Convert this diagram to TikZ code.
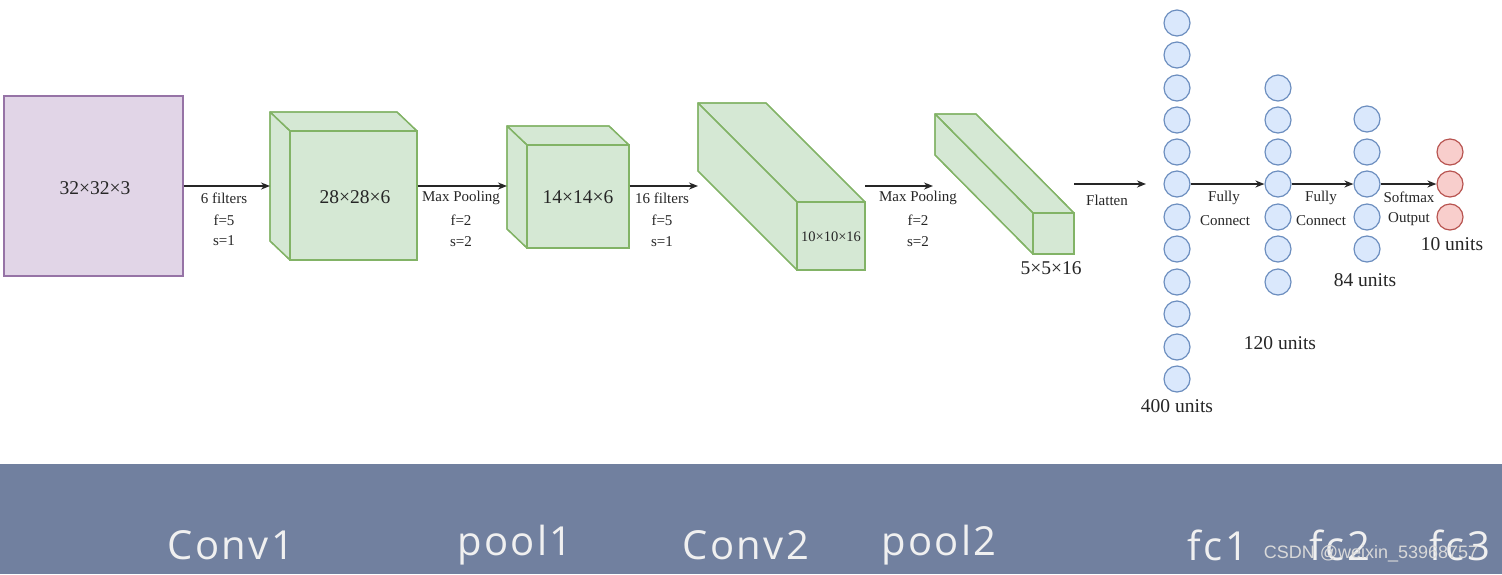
\documentclass[tikz,border=0pt]{standalone}
\usepackage{fontspec}
\setmainfont{Liberation Serif}
\newfontfamily\bandfont[LetterSpace=6]{Open Sans}
\newfontfamily\wmfont{Liberation Sans}
\usetikzlibrary{arrows.meta}
\definecolor{purfill}{HTML}{E1D5E7}
\definecolor{purline}{HTML}{9673A6}
\definecolor{grnfill}{HTML}{D5E8D4}
\definecolor{grnline}{HTML}{82B366}
\definecolor{blufill}{HTML}{DAE8FC}
\definecolor{bluline}{HTML}{6C8EBF}
\definecolor{redfill}{HTML}{F8CECC}
\definecolor{redline}{HTML}{B85450}
\definecolor{band}{HTML}{71809F}
\definecolor{ink}{HTML}{262626}
\begin{document}
\begin{tikzpicture}[x=1pt,y=-1pt,
  face/.style={fill=grnfill,draw=grnline,line width=1.3pt,line join=round},
  box/.style={rectangle,inner sep=0pt,fill=grnfill,draw=grnline,line width=1.3pt},
  lbl/.style={inner sep=0pt,text=ink,font=\fontsize{15}{17}\selectfont},
  dim/.style={inner sep=0pt,text=ink,font=\fontsize{19.5}{22}\selectfont},
  conn/.style={-{Stealth[length=9pt,width=7pt]},line width=1.6pt,draw=ink},
  neu/.style={circle,minimum size=26pt,inner sep=0pt,fill=blufill,draw=bluline,line width=1.2pt},
  outn/.style={circle,minimum size=26pt,inner sep=0pt,fill=redfill,draw=redline,line width=1.2pt},
  bandlbl/.style={inner sep=0pt,text=white!94!black,font=\bandfont\fontsize{40}{46}\selectfont}]
\useasboundingbox (0,0) rectangle (1502,574);
\fill[white] (0,0) rectangle (1502,574);
% bottom band
\fill[band] (0,464) rectangle (1502,574);

% input
\node[rectangle,inner sep=0pt,minimum width=179pt,minimum height=180pt,fill=purfill,draw=purline,line width=1.3pt] (in) at (93.5,186) {};
\node[dim] (intext) at (95,188) {32×32×3};

% cube 1
\fill[face] (290,131) -- (270,112) -- (397,112) -- (417,131) -- cycle;
\fill[face] (290,131) -- (270,112) -- (270,241) -- (290,260) -- cycle;
\draw[grnline,line width=1.3pt,line join=round] (290,131) -- (270,112) -- (397,112) -- (417,131) (270,112) -- (270,241) -- (290,260);
\node[box,minimum width=127pt,minimum height=129pt] (c1) at (353.5,195.5) {};
\node[dim] (c1t) at (355,197) {28×28×6};
\coordinate (c1l) at (270,186);

% cube 2
\fill[face] (527,145) -- (507,126) -- (609,126) -- (629,145) -- cycle;
\fill[face] (527,145) -- (507,126) -- (507,229) -- (527,248) -- cycle;
\draw[grnline,line width=1.3pt,line join=round] (527,145) -- (507,126) -- (609,126) -- (629,145) (507,126) -- (507,229) -- (527,248);
\node[box,minimum width=102pt,minimum height=103pt] (c2) at (578,196.5) {};
\node[dim] (c2t) at (578,197) {14×14×6};
\coordinate (c2l) at (507,186);

% cube 3
\fill[face] (797,202) -- (698,103) -- (766,103) -- (865,202) -- cycle;
\fill[face] (797,202) -- (698,103) -- (698,171) -- (797,270) -- cycle;
\draw[grnline,line width=1.3pt,line join=round] (797,202) -- (698,103) -- (766,103) -- (865,202) (698,103) -- (698,171) -- (797,270);
\node[box,minimum width=68pt,minimum height=68pt] (c3) at (831,236) {};
\node[lbl,font=\fontsize{14.5}{16}\selectfont] (c3t) at (831,237) {10×10×16};
\coordinate (c3l) at (698,186);
\coordinate (c3r) at (865,186);

% cube 4
\fill[face] (1033,213) -- (935,114) -- (976,114) -- (1074,213) -- cycle;
\fill[face] (1033,213) -- (935,114) -- (935,155) -- (1033,254) -- cycle;
\draw[grnline,line width=1.3pt,line join=round] (1033,213) -- (935,114) -- (976,114) -- (1074,213) (935,114) -- (935,155) -- (1033,254);
\node[box,minimum width=41pt,minimum height=41pt] (c4) at (1053.5,233.5) {};
\node[dim] (c4t) at (1051,268) {5×5×16};
\coordinate (c4l) at (933,186);
\coordinate (c4r) at (1074,184);
\coordinate (fl) at (1146,184);

% neuron columns
\foreach \i/\y in {1/23,2/55,3/88,4/120,5/152,6/184,7/217,8/249,9/282,10/314,11/347,12/379}
  \node[neu] (a\i) at (1177,\y) {};
\foreach \i/\y in {1/88,2/120,3/152,4/184,5/217,6/249,7/282}
  \node[neu] (b\i) at (1278,\y) {};
\foreach \i/\y in {1/119,2/152,3/184,4/217,5/249}
  \node[neu] (d\i) at (1367,\y) {};
\foreach \i/\y in {1/152,2/184,3/217}
  \node[outn] (e\i) at (1450,\y) {};

% connectors
\draw[conn] (in.east |- 0,186) -- (c1l);
\draw[conn] (c1.east |- 0,186) -- (c2l);
\draw[conn] (c2.east |- 0,186) -- (c3l);
\draw[conn] (c3r) -- (c4l);
\draw[conn] (c4r) -- (fl);
\draw[conn] (a6.east) -- (b4.west);
\draw[conn] (b4.east) -- (d3.west);
\draw[conn] (d3.east) -- (e2.west);

% labels
\node[lbl] (l1a) at (224,198) {6 filters};
\node[lbl] (l1b) at (224,220) {f=5};
\node[lbl] (l1c) at (224,241) {s=1};
\node[lbl] (l2a) at (461,198) {Max Pooling};
\node[lbl] (l2b) at (461,220) {f=2};
\node[lbl] (l2c) at (461,242) {s=2};
\node[lbl] (l3a) at (662,198) {16 filters};
\node[lbl] (l3b) at (662,220) {f=5};
\node[lbl] (l3c) at (662,242) {s=1};
\node[lbl] (l4a) at (918,198) {Max Pooling};
\node[lbl] (l4b) at (918,220) {f=2};
\node[lbl] (l4c) at (918,242) {s=2};
\node[lbl] (l5) at (1107,200) {Flatten};
\node[lbl] (l6a) at (1224,198) {Fully};
\node[lbl] (l6b) at (1225,221) {Connect};
\node[lbl] (l7a) at (1321,198) {Fully};
\node[lbl] (l7b) at (1321,221) {Connect};
\node[lbl] (l8a) at (1409,197) {Softmax};
\node[lbl] (l8b) at (1409,219) {Output};
\node[dim] (u1) at (1177,406) {400 units};
\node[dim] (u2) at (1280,343) {120 units};
\node[dim] (u3) at (1365,280) {84 units};
\node[dim] (u4) at (1452,244) {10 units};

% band labels
\node[bandlbl] (bl1) at (231,545) {Conv1};
\node[bandlbl] (bl2) at (515,545) {pool1};
\node[bandlbl] (bl3) at (746,545) {Conv2};
\node[bandlbl] (bl4) at (939,545) {pool2};
\node[bandlbl] (bl5) at (1218,545) {fc1};
\node[bandlbl] (bl6) at (1340,545) {fc2};
\node[bandlbl] (bl7) at (1460,545) {fc3};
\node[inner sep=0pt,text=white!85!black,font=\wmfont\fontsize{18}{20}\selectfont] (wm) at (1371,554) {CSDN @weixin\_53968757};
\end{tikzpicture}
\end{document}
